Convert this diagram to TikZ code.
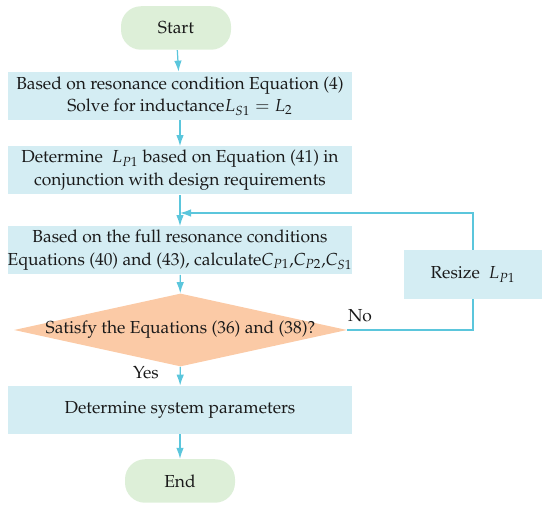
\documentclass[tikz,border=0pt]{standalone}
\usepackage[T1]{fontenc}
\usepackage{mathpazo}
\usepackage{amsmath}
\usetikzlibrary{arrows.meta,shapes.geometric}

\definecolor{boxblue}{HTML}{D4EDF3}
\definecolor{termgreen}{HTML}{DDEFD8}
\definecolor{decpeach}{HTML}{FBCAA6}
\definecolor{linecyan}{HTML}{5BC6DC}
\definecolor{inkgrey}{HTML}{1A1A1A}

\tikzset{
  stepbox/.style = {rectangle, fill=boxblue, minimum width=6.88cm,
    minimum height=0.96cm, align=center, inner sep=0pt},
  term/.style = {rectangle, rounded corners=0.4cm, fill=termgreen,
    minimum width=2.2cm, minimum height=0.87cm, inner sep=0pt},
  decision/.style = {diamond, fill=decpeach, aspect=4.56, inner ysep=0pt,
    inner xsep=-0.4cm, minimum width=6.66cm, minimum height=1.46cm},
  flow/.style = {draw=linecyan, line width=0.7pt,
    -{Latex[length=2.2mm,width=1.5mm]}},
  plain/.style = {draw=linecyan, line width=0.7pt}
}

\begin{document}
\begin{tikzpicture}[font=\fontsize{9.9}{13}\selectfont, text=inkgrey]
  \useasboundingbox (0,0) rectangle (11,10.2);

  \node[term] (start) at (3.52,9.64) {Start};

  \node[stepbox] (resonance) at (3.6,8.28)
  {Based on resonance condition Equation (4)\\
   Solve for inductance$L_{S1}=L_2$};

  \node[stepbox] (lp) at (3.6,6.79)
  {Determine\ \ $L_{P1}$ based on Equation (41) in\\
   conjunction with design requirements};

  \node[stepbox] (calc) at (3.6,5.19)
  {Based on the full resonance conditions\\
   Equations (40) and (43), calculate$C_{P1}$,$C_{P2}$,$C_{S1}$};

  \node[decision] (check) at (3.61,3.6)
  {Satisfy the Equations (36) and (38)?};

  \node[stepbox] (params) at (3.6,2.0) {Determine system parameters};

  \node[term] (end) at (3.6,0.58) {End};

  \node[rectangle, fill=boxblue, minimum width=2.76cm,
    minimum height=0.98cm] (resize) at (9.46,4.71) {Resize\ \ $L_{P1}$};

  \coordinate (join) at (3.6,5.94);

  \draw[flow] (start) -- (resonance);
  \draw[flow] (resonance) -- (lp);
  \draw[flow] (lp) -- (calc);
  \draw[flow] (calc) -- (check);
  \draw[flow] (check) -- (params);
  \draw[flow] (params) -- (end);

  \draw[plain] (check.east) -| (resize.south);
  \draw[flow] (resize.north) |- (join);

  \node (no) at (7.2,3.88) {No};
  \node (yes) at (2.92,2.74) {Yes};
\end{tikzpicture}
\end{document}
